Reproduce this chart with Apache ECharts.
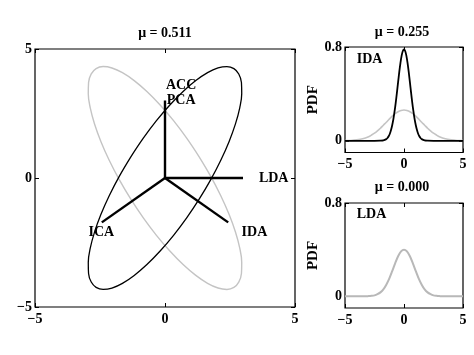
<!DOCTYPE html>
<html><head><meta charset="utf-8">
<script src="https://cdn.jsdelivr.net/npm/echarts@6/dist/echarts.min.js"></script>
<style>html,body{margin:0;padding:0;background:#fff}#c{width:474px;height:355px}</style>
</head><body><div id="c"></div>
<script>
// ---- titles and tick labels ----
const mainTitle = 'μ = 0.511';
const idaTitle = 'μ = 0.255';
const ldaTitle = 'μ = 0.000';
const mainTicks = [-5, 0, 5];
const pdfXTicks = [-5, 0, 5];
const pdfYTicks = [0, 0.8];

// ---- main panel: class ellipses ----
const ellipseBlack = [[-1.314,0.821],[-1.754,0.073],[-2.141,-0.678],[-2.463,-1.409],[-2.710,-2.096],[-2.875,-2.720],[-2.951,-3.261],[-2.940,-3.703],[-2.837,-4.033],[-2.650,-4.240],[-2.381,-4.319],[-2.040,-4.265],[-1.637,-4.083],[-1.185,-3.776],[-0.696,-3.354],[-0.187,-2.831],[0.329,-2.222],[0.834,-1.545],[1.314,-0.821],[1.754,-0.073],[2.141,0.678],[2.463,1.409],[2.710,2.096],[2.875,2.720],[2.951,3.261],[2.940,3.703],[2.837,4.033],[2.650,4.240],[2.381,4.319],[2.040,4.265],[1.637,4.083],[1.185,3.776],[0.696,3.354],[0.187,2.831],[-0.329,2.222],[-0.834,1.545],[-1.314,0.821]];
const ellipseGray = [[1.314,0.821],[1.754,0.073],[2.141,-0.678],[2.463,-1.409],[2.710,-2.096],[2.875,-2.720],[2.951,-3.261],[2.940,-3.703],[2.837,-4.033],[2.650,-4.240],[2.381,-4.319],[2.040,-4.265],[1.637,-4.083],[1.185,-3.776],[0.696,-3.354],[0.187,-2.831],[-0.329,-2.222],[-0.834,-1.545],[-1.314,-0.821],[-1.754,-0.073],[-2.141,0.678],[-2.463,1.409],[-2.710,2.096],[-2.875,2.720],[-2.951,3.261],[-2.940,3.703],[-2.837,4.033],[-2.650,4.240],[-2.381,4.319],[-2.040,4.265],[-1.637,4.083],[-1.185,3.776],[-0.696,3.354],[-0.187,2.831],[0.329,2.222],[0.834,1.545],[1.314,0.821]];

// projection directions (end points, from origin)
const vectorNames = ['ACC/PCA', 'LDA', 'ICA', 'IDA'];
const vectorEnds = [[0, 3], [3, 0], [-2.43, -1.72], [2.43, -1.72]];

// direction labels (data coordinates of label centres)
const dirLabels = ['ACC', 'PCA', 'LDA', 'ICA', 'IDA'];
const dirLabelX = [0.62, 0.62, 4.18, -2.45, 3.44];
const dirLabelY = [3.57, 2.98, -0.05, -2.13, -2.13];

// ---- IDA panel PDFs ----
const idaBlackX = [-5,-3,-2.5,-2,-1.75,-1.5,-1.4,-1.3,-1.2,-1.1,-1,-0.9,-0.8,-0.7,-0.6,-0.5,-0.4,-0.3,-0.2,-0.1,0,0.1,0.2,0.3,0.4,0.5,0.6,0.7,0.8,0.9,1,1.1,1.2,1.3,1.4,1.5,1.75,2,2.5,3,5];
const idaBlackY = [0,0,0,0.001,0.003,0.014,0.024,0.039,0.060,0.091,0.132,0.184,0.250,0.326,0.411,0.500,0.587,0.664,0.726,0.766,0.780,0.766,0.726,0.664,0.587,0.500,0.411,0.326,0.250,0.184,0.132,0.091,0.060,0.039,0.024,0.014,0.003,0.001,0,0,0];
const idaGrayX = [-5,-4.5,-4,-3.5,-3,-2.75,-2.5,-2.25,-2,-1.75,-1.5,-1.25,-1,-0.75,-0.5,-0.25,0,0.25,0.5,0.75,1,1.25,1.5,1.75,2,2.25,2.5,2.75,3,3.5,4,4.5,5];
const idaGrayY = [0.001,0.003,0.008,0.017,0.035,0.049,0.065,0.085,0.107,0.133,0.158,0.185,0.210,0.231,0.248,0.258,0.262,0.258,0.248,0.231,0.210,0.185,0.158,0.133,0.107,0.085,0.065,0.049,0.035,0.017,0.008,0.003,0.001];

// ---- LDA panel PDF ----
const ldaGrayX = [-5,-4,-3.5,-3,-2.75,-2.5,-2.25,-2,-1.75,-1.5,-1.25,-1,-0.75,-0.5,-0.25,0,0.25,0.5,0.75,1,1.25,1.5,1.75,2,2.25,2.5,2.75,3,3.5,4,5];
const ldaGrayY = [0,0,0,0.002,0.004,0.008,0.018,0.034,0.060,0.100,0.152,0.216,0.283,0.343,0.385,0.400,0.385,0.343,0.283,0.216,0.152,0.100,0.060,0.034,0.018,0.008,0.004,0.002,0,0,0];

const panelLabels = ['IDA', 'LDA'];
const panelLabelX = [-2.92, -2.75];
const panelLabelY = [0.687, 0.695];

// ---- drawing ----
const FONT = 'Liberation Serif';
const txt = (size) => ({ fontFamily: FONT, fontWeight: 'bold', fontSize: size, color: '#000' });
const fmt = (v) => v < 0 ? '\u2212' + Math.abs(v) : String(v);
const GRAY = '#c4c4c4';

function xAxis(grid, ticks, pos, labels) {
  return {
    type: 'value', gridIndex: grid, position: pos, min: ticks[0], max: ticks[ticks.length - 1],
    axisLine: { show: false, onZero: false }, splitLine: { show: false },
    axisTick: { show: true, inside: true, length: 4, customValues: ticks, lineStyle: { color: '#000' } },
    axisLabel: { show: labels, customValues: ticks, margin: 5, formatter: fmt, ...txt(14) }
  };
}
function yAxis(grid, ticks, min, max, pos, labels, name) {
  return {
    type: 'value', gridIndex: grid, position: pos, min: min, max: max,
    axisLine: { show: false, onZero: false }, splitLine: { show: false },
    axisTick: { show: true, inside: true, length: 4, customValues: ticks, lineStyle: { color: '#000' } },
    axisLabel: { show: labels, customValues: ticks, margin: 3, formatter: fmt, ...txt(14) },
    name: name || '', nameLocation: 'middle', nameGap: 24, nameRotate: 90, nameTextStyle: txt(15)
  };
}
const gridBase = { show: true, borderColor: '#000', borderWidth: 1.2, backgroundColor: '#fff', containLabel: false };
const labelStyle = (size) => ({ show: true, position: 'top', distance: 0, align: 'center', verticalAlign: 'middle',
  formatter: p => p.data[2], ...txt(size), textBorderWidth: 0, opacity: 1 });

const series = [
  { type: 'line', xAxisIndex: 0, yAxisIndex: 0, data: ellipseGray, smooth: 0.4, showSymbol: false,
    lineStyle: { color: GRAY, width: 1.4 }, z: 2, silent: true },
  { type: 'line', xAxisIndex: 0, yAxisIndex: 0, data: ellipseBlack, smooth: 0.4, showSymbol: false,
    lineStyle: { color: '#000', width: 1.3 }, z: 3, silent: true }
];
vectorEnds.forEach((e, i) => series.push({
  type: 'line', name: vectorNames[i], xAxisIndex: 0, yAxisIndex: 0, data: [[0, 0], e], showSymbol: false,
  lineStyle: { color: '#000', width: 2.4 }, z: 4, silent: true
}));
series.push({
  type: 'scatter', xAxisIndex: 0, yAxisIndex: 0, symbolSize: 1, z: 5, silent: true,
  itemStyle: { color: 'rgba(0,0,0,0)' },
  data: dirLabels.map((n, i) => [dirLabelX[i], dirLabelY[i], n]),
  label: labelStyle(14)
});
// IDA panel
series.push({ type: 'line', xAxisIndex: 2, yAxisIndex: 2, data: idaGrayX.map((x, i) => [x, idaGrayY[i]]),
  smooth: 0.3, showSymbol: false, lineStyle: { color: GRAY, width: 1.6 }, z: 2, silent: true });
series.push({ type: 'line', xAxisIndex: 2, yAxisIndex: 2, data: idaBlackX.map((x, i) => [x, idaBlackY[i]]),
  smooth: 0.3, showSymbol: false, lineStyle: { color: '#000', width: 1.8 }, z: 3, silent: true });
// LDA panel
series.push({ type: 'line', xAxisIndex: 4, yAxisIndex: 4, data: ldaGrayX.map((x, i) => [x, ldaGrayY[i]]),
  smooth: 0.3, showSymbol: false, lineStyle: { color: '#b8b8b8', width: 2 }, z: 2, silent: true });
// panel labels
[2, 4].forEach((ax, i) => series.push({
  type: 'scatter', xAxisIndex: ax, yAxisIndex: ax, symbolSize: 1, z: 5, silent: true,
  itemStyle: { color: 'rgba(0,0,0,0)' },
  data: [[panelLabelX[i], panelLabelY[i], panelLabels[i]]],
  label: labelStyle(14)
}));

const titleBase = { textAlign: 'center', padding: 0, textStyle: txt(14) };
const option = {
  animation: false,
  backgroundColor: '#fff',
  title: [
    { ...titleBase, text: mainTitle, left: 165, top: 26 },
    { ...titleBase, text: idaTitle, left: 402, top: 25 },
    { ...titleBase, text: ldaTitle, left: 402, top: 180 }
  ],
  grid: [
    { ...gridBase, left: 35, top: 49, width: 260, height: 258 },
    { ...gridBase, left: 345, top: 47, width: 118, height: 105.5 },
    { ...gridBase, left: 345, top: 203, width: 118, height: 105 }
  ],
  xAxis: [
    xAxis(0, mainTicks, 'bottom', true), xAxis(0, mainTicks, 'top', false),
    xAxis(1, pdfXTicks, 'bottom', true), xAxis(1, pdfXTicks, 'top', false),
    xAxis(2, pdfXTicks, 'bottom', true), xAxis(2, pdfXTicks, 'top', false)
  ],
  yAxis: [
    yAxis(0, mainTicks, -5, 5, 'left', true), yAxis(0, mainTicks, -5, 5, 'right', false),
    yAxis(1, pdfYTicks, -0.1, 0.8, 'left', true, 'PDF'), yAxis(1, pdfYTicks, -0.1, 0.8, 'right', false),
    yAxis(2, pdfYTicks, -0.1, 0.8, 'left', true, 'PDF'), yAxis(2, pdfYTicks, -0.1, 0.8, 'right', false)
  ],
  series: series
};
const chart = echarts.init(document.getElementById('c'), null, { renderer: 'canvas' });
chart.setOption(option);
</script>
</body></html>
